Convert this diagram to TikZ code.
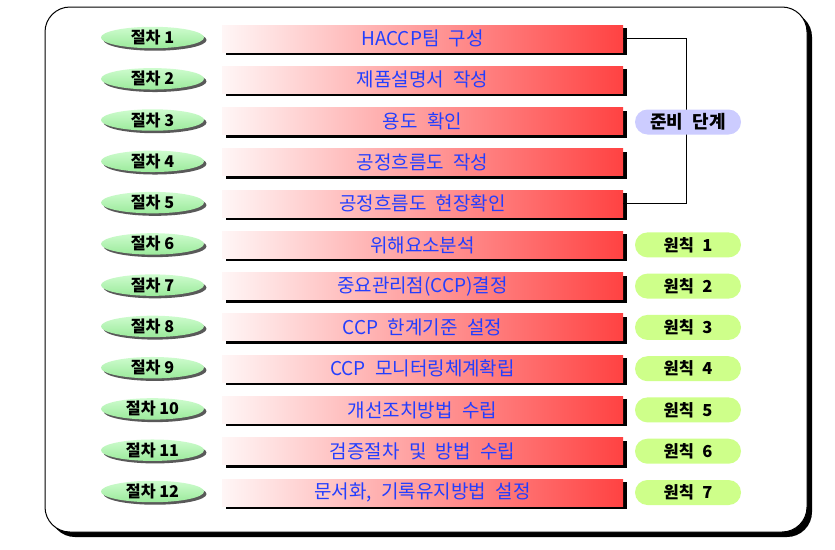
\documentclass[tikz,border=0pt]{standalone}
\usepackage{fontspec}
\newfontfamily\kr[WordSpace=2.2]{Noto Sans CJK KR}
\newfontfamily\krn[Scale=0.98]{Noto Sans CJK KR}
\usetikzlibrary{shapes,shadows}
\definecolor{barred}{RGB}{255,66,66}
\definecolor{barwhite}{RGB}{255,246,246}
\definecolor{barblue}{RGB}{35,62,255}
\definecolor{ovaltop}{RGB}{206,252,206}
\definecolor{ovalbot}{RGB}{155,234,155}
\definecolor{prgreen}{RGB}{206,255,138}
\definecolor{preplav}{RGB}{204,204,255}
\begin{document}
\begin{tikzpicture}[x=1pt,y=-1pt,
        stepoval/.style={ellipse, minimum width=103pt, minimum height=21pt, inner sep=0pt,
          top color=ovaltop, bottom color=ovalbot,
          drop shadow={shadow xshift=2.5pt, shadow yshift=-2.5pt, fill=black!65, opacity=1},
          font=\krn\bfseries\fontsize{16.5}{18}\selectfont},
        taskbar/.style={rectangle, minimum width=401pt, minimum height=27pt, inner sep=0pt,
          left color=barwhite, right color=barred, text=barblue,
          drop shadow={shadow xshift=4pt, shadow yshift=-3pt, fill=black, opacity=1},
          font=\kr\fontsize{19}{21}\selectfont},
        principle/.style={rectangle, rounded corners=12.5pt, minimum width=106pt, minimum height=25pt,
          inner sep=0pt, fill=prgreen, font=\kr\bfseries\fontsize{16.5}{18}\selectfont},
        prepbox/.style={principle, fill=preplav, font=\kr\bfseries\fontsize{18}{20}\selectfont}]
        \useasboundingbox (0,0) rectangle (835,549);

        % frame
        \fill[black,rounded corners=25pt] (50,12) rectangle (812,537);
        \draw[fill=white,line width=1pt,rounded corners=25pt] (45,7) rectangle (807,532);

        \node[stepoval] (s1)  at (152.5, 37.5) {절차 1};
        \node[stepoval] (s2)  at (152.5, 78.8) {절차 2};
        \node[stepoval] (s3)  at (152.5,120.0) {절차 3};
        \node[stepoval] (s4)  at (152.5,161.3) {절차 4};
        \node[stepoval] (s5)  at (152.5,202.6) {절차 5};
        \node[stepoval] (s6)  at (152.5,243.9) {절차 6};
        \node[stepoval] (s7)  at (152.5,285.1) {절차 7};
        \node[stepoval] (s8)  at (152.5,326.4) {절차 8};
        \node[stepoval] (s9)  at (152.5,367.7) {절차 9};
        \node[stepoval] (s10) at (152.5,408.9) {절차 10};
        \node[stepoval] (s11) at (152.5,450.2) {절차 11};
        \node[stepoval] (s12) at (152.5,491.5) {절차 12};

        \node[taskbar] (t1)  at (422.5, 38.5) {HACCP팀 구성};
        \node[taskbar] (t2)  at (422.5, 79.8) {제품설명서 작성};
        \node[taskbar] (t3)  at (422.5,121.0) {용도 확인};
        \node[taskbar] (t4)  at (422.5,162.3) {공정흐름도 작성};
        \node[taskbar] (t5)  at (422.5,203.6) {공정흐름도 현장확인};
        \node[taskbar] (t6)  at (422.5,244.9) {위해요소분석};
        \node[taskbar] (t7)  at (422.5,286.1) {중요관리점(CCP)결정};
        \node[taskbar] (t8)  at (422.5,327.4) {CCP 한계기준 설정};
        \node[taskbar] (t9)  at (422.5,368.7) {CCP 모니터링체계확립};
        \node[taskbar] (t10) at (422.5,409.9) {개선조치방법 수립};
        \node[taskbar] (t11) at (422.5,451.2) {검증절차 및 방법 수립};
        \node[taskbar] (t12) at (422.5,492.5) {문서화, 기록유지방법 설정};

        \draw[line width=.8pt] (t1.east) -- ++(63,0) |- (t5.east);
        \node[prepbox] (prep) at (688,122) {준비 단계};

        \node[principle] (p1) at (688,244.9) {원칙 1};
        \node[principle] (p2) at (688,286.1) {원칙 2};
        \node[principle] (p3) at (688,327.4) {원칙 3};
        \node[principle] (p4) at (688,368.7) {원칙 4};
        \node[principle] (p5) at (688,409.9) {원칙 5};
        \node[principle] (p6) at (688,451.2) {원칙 6};
        \node[principle] (p7) at (688,492.5) {원칙 7};
      \end{tikzpicture}
\end{document}
